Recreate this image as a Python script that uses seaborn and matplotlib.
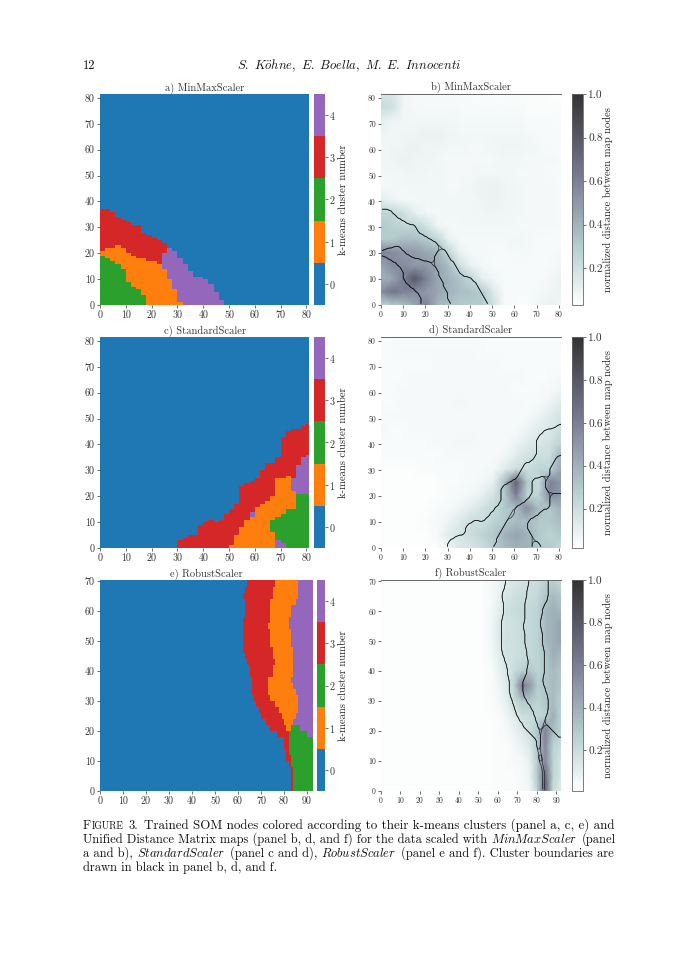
import numpy as np
import seaborn as sns
import matplotlib
matplotlib.use('Agg')
import matplotlib.pyplot as plt
from matplotlib.colors import ListedColormap
from matplotlib.transforms import Affine2D

plt.rcParams['font.family'] = 'cmr10'
plt.rcParams['mathtext.fontset'] = 'cm'
plt.rcParams['axes.unicode_minus'] = False
plt.rcParams['axes.formatter.use_mathtext'] = True

W, H = 685, 972

cluster_colors = ['#1f77b4', '#ff7f0e', '#2ca02c', '#d62728', '#9467bd']
cluster_ticks = [0, 1, 2, 3, 4]

# top of each cluster per column, one value for every 2 nodes (x = 0, 2, ... 80)
a_green = [19, 18, 17, 16, 14, 9, 7, 6, 4] + [0] * 32
a_orange = [21, 22, 22, 23, 22, 20, 19, 18, 18, 17, 17, 16, 14, 10, 6, 1] + [0] * 25
a_purple = [0] * 12 + [20, 22, 21, 18, 16, 13, 11, 11, 10, 8, 5, 2] + [0] * 17
a_red = [37, 37, 36, 34, 33, 32, 31, 31, 28, 27, 26, 25, 24] + [0] * 28

c_orange_low = [0] * 33 + [6] + [0] * 7
c_purple_low = [0] * 34 + [3, 2] + [0] * 5
c_green = [0] * 33 + [11, 12, 13, 15, 15, 21, 21, 21]
c_orange = [0] * 25 + [1, 5, 8, 11, 12, 16, 17, 18, 20, 27, 27, 28, 22] + [0] * 3
c_purple = [0] * 29 + [14] + [0] * 7 + [27, 32, 35, 36]
c_red = [0] * 15 + [3, 4, 5, 5, 9, 10, 11, 10, 11, 13, 15, 17, 24, 25, 26, 27, 30,
                    33, 33, 35, 43, 45, 46, 46, 47, 48]

# right edge of each cluster per row, one value for every 2 nodes (y = 0, 2, ... 70)
e_blue = [83, 83, 83, 83, 82, 81, 81, 80, 80, 77, 74, 72, 70, 69, 68, 67, 66, 66,
          66, 65, 65, 64, 63, 62, 62, 62, 62, 62, 62, 63, 63, 63, 62, 63, 64, 64]
e_red = [84, 84, 84, 84, 83, 83, 82, 82, 82, 82, 81, 80, 79, 78, 76, 74, 73, 73,
         73, 75, 75, 76, 75, 75, 74, 74, 74, 73, 74, 74, 74, 74, 75, 75, 76, 76]
e_orange = [0] * 10 + [83, 84, 85, 86, 86, 86, 85, 84, 83, 84, 84, 84, 84, 84, 83,
                       83, 83, 82, 82, 83, 83, 85, 86, 86, 86, 86]
e_green = [93] * 9 + [90, 87] + [0] * 25

# distance map read every 5 nodes, rows from y = 0 up to y = 80
b_umatrix = [
    [.25, .30, .35, .45, .60, .40, .35, .30, .30, .30, .20, .06, .05, .05, .08, .10, .08],
    [.55, .65, .60, .55, .50, .45, .40, .35, .33, .30, .15, .06, .06, .06, .07, .08, .10],
    [.40, .45, .60, .80, .60, .45, .40, .33, .25, .12, .08, .06, .06, .06, .06, .07, .10],
    [.45, .55, .55, .50, .50, .45, .35, .20, .10, .07, .06, .06, .06, .06, .06, .06, .08],
    [.60, .55, .50, .50, .45, .40, .25, .10, .07, .07, .06, .06, .07, .07, .06, .06, .07],
    [.30, .30, .35, .35, .30, .25, .10, .07, .07, .07, .07, .07, .08, .07, .06, .06, .06],
    [.30, .28, .25, .25, .20, .09, .07, .07, .08, .08, .08, .08, .07, .07, .07, .07, .06],
    [.25, .25, .20, .12, .08, .07, .08, .08, .08, .08, .09, .08, .08, .07, .07, .07, .06],
    [.13, .09, .07, .07, .08, .08, .08, .08, .08, .09, .10, .09, .08, .07, .07, .07, .06],
    [.07, .07, .08, .08, .08, .08, .07, .07, .08, .10, .10, .09, .08, .07, .07, .07, .06],
    [.08, .08, .08, .09, .08, .08, .07, .07, .07, .08, .08, .08, .07, .07, .07, .06, .06],
    [.08, .09, .10, .09, .09, .08, .07, .07, .07, .07, .07, .08, .08, .07, .07, .07, .06],
    [.08, .09, .09, .10, .09, .09, .08, .08, .07, .07, .08, .09, .09, .08, .07, .06, .06],
    [.09, .08, .09, .09, .10, .10, .09, .08, .08, .08, .08, .08, .08, .07, .06, .06, .06],
    [.12, .09, .08, .08, .08, .08, .08, .07, .07, .07, .07, .07, .07, .06, .06, .06, .05],
    [.22, .20, .08, .07, .07, .07, .07, .06, .06, .06, .06, .06, .06, .05, .05, .05, .05],
    [.18, .17, .08, .06, .06, .06, .06, .06, .05, .05, .05, .05, .05, .05, .05, .04, .04],
]
d_umatrix = [
    [.03, .03, .03, .03, .03, .03, .08, .14, .16, .20, .28, .35, .40, .40, .30, .30, .22],
    [.03, .03, .03, .03, .03, .05, .12, .16, .20, .25, .30, .40, .45, .40, .30, .25, .30],
    [.03, .03, .03, .03, .04, .05, .08, .14, .20, .20, .25, .30, .35, .35, .30, .30, .35],
    [.03, .03, .03, .03, .03, .04, .05, .08, .12, .18, .22, .30, .35, .55, .35, .30, .40],
    [.03, .03, .03, .03, .03, .03, .04, .05, .06, .10, .18, .30, .60, .25, .25, .55, .50],
    [.03, .03, .03, .03, .03, .03, .04, .04, .05, .06, .10, .35, .75, .30, .20, .60, .50],
    [.03, .03, .03, .03, .04, .04, .04, .04, .05, .05, .06, .12, .20, .20, .25, .25, .45],
    [.04, .04, .04, .04, .04, .04, .05, .05, .05, .05, .05, .06, .12, .18, .20, .20, .40],
    [.04, .04, .04, .04, .04, .05, .05, .06, .06, .05, .05, .05, .08, .12, .15, .18, .25],
    [.05, .04, .04, .05, .05, .05, .05, .05, .05, .05, .05, .05, .05, .08, .12, .15, .20],
    [.05, .05, .05, .05, .05, .05, .05, .05, .05, .05, .05, .05, .05, .05, .08, .12, .18],
    [.04, .04, .05, .05, .05, .05, .05, .06, .05, .05, .05, .05, .05, .04, .05, .08, .13],
    [.04, .04, .05, .05, .05, .05, .05, .05, .05, .05, .05, .05, .04, .04, .04, .05, .08],
    [.04, .04, .04, .05, .05, .05, .05, .05, .05, .05, .05, .05, .05, .04, .04, .04, .05],
    [.04, .04, .04, .04, .04, .05, .05, .05, .05, .05, .05, .04, .04, .04, .04, .04, .04],
    [.04, .04, .05, .05, .05, .05, .05, .05, .05, .04, .04, .04, .04, .04, .04, .04, .04],
    [.03, .04, .04, .04, .04, .04, .04, .04, .04, .04, .04, .04, .04, .04, .04, .04, .03],
]
# panel f: rows every 5 nodes (y = 0 ... 70), columns every 4 nodes (x = 0 ... 92)
f_left = [.02] * 14
f_right = [
    [.02, .03, .03, .03, .04, .06, .25, .75, .20, .12],
    [.02, .03, .03, .03, .04, .07, .30, .70, .25, .15],
    [.02, .03, .03, .04, .05, .09, .30, .55, .25, .15],
    [.02, .03, .03, .05, .08, .13, .30, .55, .25, .20],
    [.02, .03, .04, .08, .12, .20, .30, .60, .35, .25],
    [.02, .03, .06, .12, .18, .20, .22, .25, .40, .25],
    [.03, .05, .10, .20, .30, .30, .25, .30, .35, .25],
    [.03, .06, .12, .25, .60, .50, .28, .30, .35, .30],
    [.03, .08, .15, .20, .25, .30, .25, .30, .35, .30],
    [.04, .10, .16, .18, .20, .22, .25, .30, .40, .35],
    [.05, .12, .18, .18, .20, .22, .25, .35, .40, .45],
    [.05, .12, .18, .18, .20, .22, .25, .35, .40, .45],
    [.05, .10, .18, .20, .22, .22, .25, .35, .40, .35],
    [.04, .08, .15, .18, .20, .20, .22, .30, .35, .30],
    [.04, .07, .12, .14, .16, .18, .20, .25, .25, .22],
]

umatrix_ticks = [0.2, 0.4, 0.6, 0.8, 1.0]
umatrix_vmin = {'b': 0.03, 'd': 0.016, 'f': 0.008}

caption_line1 = ['Trained SOM nodes colored according to their k-means clusters (panel a, c, e) and']
caption_line2 = ['Unified Distance Matrix maps (panel b, d, and f) for the data scaled with',
                 r'$\mathit{MinMaxScaler}$', '(panel']
caption_line3 = ['a and b),', r'$\mathit{StandardScaler}$', '(panel c and d),', r'$\mathit{RobustScaler}$',
                 '(panel e and f). Cluster boundaries are']
caption_line4 = ['drawn in black in panel b, d, and f.']

# bone_r faded towards white, the dark end of the reference is dark grey
umatrix_cmap = ListedColormap(plt.get_cmap('bone_r')(np.linspace(0, 1, 256)) * 0.8 + 0.2)


def px_axes(x0, y0, x1, y1):
    return fig.add_axes([x0 / W, 1 - y1 / H, (x1 - x0) / W, (y1 - y0) / H])


def columns_grid(layers, nrows=82):
    # layers go from bottom to top as (cluster, tops), the rest stays cluster 0
    grid = np.zeros((nrows, 82), dtype=int)
    tops = np.maximum.accumulate([np.repeat(t, 2) for _, t in layers], axis=0)
    for col in range(82):
        low = 0
        for (cluster, _), top in zip(layers, tops[:, col]):
            grid[low:top, col] = cluster
            low = max(low, top)
    return grid


def rows_grid(layers, ncols=93, nrows=71):
    # layers go from left to right as (cluster, edges), the rest is cluster 4
    grid = np.full((nrows, ncols), 4)
    edges = np.maximum.accumulate([np.repeat(e, 2)[:nrows] for _, e in layers], axis=0)
    for row in range(nrows):
        low = 0
        for (cluster, _), edge in zip(layers, edges[:, row]):
            grid[row, low:edge] = cluster
            low = max(low, edge)
    return grid


def soft_mask(grid, k):
    # rounds the stair steps of the mask so the contour runs like a drawn line
    mask = np.pad((grid == k).astype(float), 1, mode='edge')
    return np.lib.stride_tricks.sliding_window_view(mask, (3, 3)).mean(axis=(2, 3))


def style_ticks(ax, xlim, ylim, xticks, yticks, size):
    ax.set_xlim(0, xlim)
    ax.set_ylim(0, ylim)
    ax.set_xticks(xticks)
    ax.set_yticks(yticks)
    ax.set_xticklabels([str(t) for t in xticks], rotation=0)
    ax.set_yticklabels([str(t) for t in yticks], rotation=0)
    ax.tick_params(labelsize=size, length=2.2, width=0.5, pad=1.5, colors='#333333')


def cluster_panel(pos, cpos, grid, title, xlim, ylim, xticks, yticks):
    ax = px_axes(*pos)
    cax = px_axes(*cpos)
    sns.heatmap(grid, ax=ax, cbar_ax=cax, cmap=ListedColormap(cluster_colors), vmin=-0.5, vmax=4.5,
                xticklabels=False, yticklabels=False, cbar_kws={'ticks': cluster_ticks})
    style_ticks(ax, xlim, ylim, xticks, yticks, 7.2)
    ax.set_title(title, fontsize=7.6, pad=2, color='#333333')
    cax.tick_params(labelsize=7.2, length=2.2, width=0.5, pad=1, colors='#333333')
    cax.set_ylabel('k-means cluster number', fontsize=7.6, labelpad=2, color='#222222')


def umatrix_panel(pos, cpos, values, grid, title, vmin, xlim, ylim, xticks, yticks):
    ax = px_axes(*pos)
    cax = px_axes(*cpos)
    sns.heatmap(values, ax=ax, cbar_ax=cax, cmap=umatrix_cmap, vmin=vmin, vmax=1.0, shading='gouraud',
                xticklabels=False, yticklabels=False, cbar_kws={'ticks': umatrix_ticks})
    # mesh nodes are in read-grid units, stretch them to map nodes
    nr, nc = values.shape
    mesh = ax.collections[0]
    mesh.set_transform(Affine2D().scale(xlim / (nc - 1), ylim / (nr - 1)) + ax.transData)
    style_ticks(ax, xlim, ylim, xticks, yticks, 5.6)
    ax.spines['top'].set_visible(True)
    ax.spines['top'].set_color('#666666')
    ax.spines['top'].set_linewidth(0.7)
    # boundaries between clusters
    xc = np.arange(grid.shape[1]) + 0.5
    yc = np.arange(grid.shape[0]) + 0.5
    for k in range(5):
        ax.contour(xc, yc, soft_mask(grid, k), levels=[0.5], colors='k', linewidths=0.5, alpha=0.8)
    ax.set_xlim(0, xlim)
    ax.set_ylim(0, ylim)
    ax.set_title(title, fontsize=7.6, pad=3, color='#333333')
    cax.tick_params(labelsize=8.2, length=2.2, width=0.5, pad=1.5, colors='#333333')
    mesh.colorbar.outline.set_linewidth(0.6)
    mesh.colorbar.outline.set_edgecolor('#666666')
    cax.set_yticklabels(['0.2', '0.4', '0.6', '0.8', '1.0'])
    cax.set_ylabel('normalized distance between map nodes', fontsize=7.6, labelpad=0, color='#222222')


def draw_pieces(pieces, x0, y0, size):
    # one line of text made of plain and italic parts, returns the parts and where it ends
    drawn = []
    x = x0
    for piece in pieces:
        t = fig.text(x / W, 1 - y0 / H, piece, fontsize=size, color='#111111')
        x = t.get_window_extent(renderer).x1 + size * 0.46
        drawn.append(t)
    return drawn, x - size * 0.46


def draw_justified(pieces, x0, y0, size, right=615):
    drawn, end = draw_pieces(pieces, x0, y0, size)
    for t in drawn:
        t.remove()
    draw_pieces(pieces, x0, y0, size * (right - x0) / (end - x0))


fig = plt.figure(figsize=(W / 100, H / 100), dpi=100)
renderer = fig.canvas.get_renderer()

grid_a = columns_grid([(2, a_green), (1, a_orange), (4, a_purple), (3, a_red)])
grid_c = columns_grid([(1, c_orange_low), (4, c_purple_low), (2, c_green), (1, c_orange),
                       (4, c_purple), (3, c_red)])
grid_e = rows_grid([(0, e_blue), (3, e_red), (1, e_orange), (2, e_green)])

ticks_80 = list(range(0, 81, 10))
ticks_90 = list(range(0, 91, 10))
ticks_70 = list(range(0, 71, 10))

cluster_panel((100, 94, 309, 305), (314, 94, 325, 305), grid_a, 'a) MinMaxScaler', 81, 81.5, ticks_80, ticks_80)
cluster_panel((100, 337, 309, 548), (314, 337, 325, 548), grid_c, 'c) StandardScaler', 81, 81.5, ticks_80, ticks_80)
cluster_panel((100, 580, 313, 791), (317, 580, 325, 791), grid_e, 'e) RobustScaler', 92.6, 70.5, ticks_90, ticks_70)

f_umatrix = np.array([f_left + row for row in f_right])
umatrix_panel((381, 94, 561, 305), (572, 94, 583, 305), np.array(b_umatrix), grid_a, 'b) MinMaxScaler',
              umatrix_vmin['b'], 81, 81.5, ticks_80, ticks_80)
umatrix_panel((381, 337, 561, 548), (572, 337, 583, 548), np.array(d_umatrix), grid_c, 'd) StandardScaler',
              umatrix_vmin['d'], 81, 81.5, ticks_80, ticks_80)
umatrix_panel((381, 580, 561, 791), (572, 580, 583, 791), f_umatrix, grid_e, 'f) RobustScaler',
              umatrix_vmin['f'], 92.6, 70.5, ticks_90, ticks_70)

# page header
fig.text(83 / W, 1 - 66 / H, '12', fontsize=9, va='center', color='#111111')
fig.text(237 / W, 1 - 66 / H, r'$\mathit{S.\ K\ddot{o}hne,\ E.\ Boella,\ M.\ E.\ Innocenti}$',
         fontsize=9.1, va='center', color='#111111')

# caption, first line starts with small caps
cap_size = 9.0
x = 83.0
for piece, size in [('F', cap_size), ('IGURE', cap_size * 0.78), ('3.', cap_size)]:
    t = fig.text(x / W, 1 - 829 / H, piece, fontsize=size, color='#111111')
    x = t.get_window_extent(renderer).x1 + 1
    if piece == 'IGURE':
        x += 3
x += 5
draw_justified(caption_line1, x, 829, cap_size)
draw_justified(caption_line2, 83, 843, cap_size)
draw_justified(caption_line3, 83, 857, cap_size)
draw_pieces(caption_line4, 83, 871, cap_size)

fig.savefig('out.png', dpi=100)
